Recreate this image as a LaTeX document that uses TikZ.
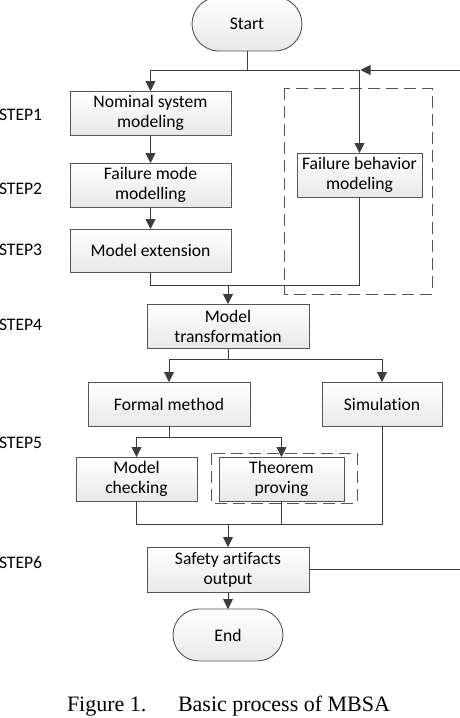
\documentclass[tikz,border=0pt]{standalone}
\usepackage{fontspec}
\newfontfamily\boxfont{Carlito}[Ligatures=NoCommon]
\newfontfamily\capfont{Liberation Serif}
\usetikzlibrary{arrows.meta}
\definecolor{ln}{RGB}{60,60,60}
\definecolor{bd}{RGB}{85,85,85}
\begin{document}
\begin{tikzpicture}[x=1pt,y=-1pt,
  every node/.style={inner sep=0pt,outer sep=0pt},
  box/.style={draw=bd,line width=0.9pt,top color=white,bottom color=gray!18,
    align=center,font=\boxfont\fontsize{17.6}{20}\selectfont,minimum height=44pt},
  term/.style={box,rounded corners=26pt,minimum width=110pt,minimum height=52pt},
  steplbl/.style={font=\boxfont\fontsize{17.6}{20}\selectfont,anchor=west},
  conn/.style={draw=ln,line width=0.9pt},
  arr/.style={conn,-{Triangle[width=10pt,length=10pt]}},
  dashbox/.style={draw=bd,line width=0.9pt,dash pattern=on 12pt off 6pt}]
\useasboundingbox (0,0) rectangle (460,718);
% nodes
\node[term,minimum height=54pt,rounded corners=27pt] (start) at (247,24) {Start};
\node[box,minimum width=161pt] (nom) at (150.5,113) {Nominal system\\modeling};
\node[box,minimum width=161pt] (fmm) at (150.5,185) {Failure mode\\modelling};
\node[box,minimum width=161pt,minimum height=43pt] (mext) at (150.5,250.5) {Model extension};
\node[box,minimum width=125pt] (fbm) at (359.5,175) {Failure behavior\\modeling};
\node[box,minimum width=162pt] (mtr) at (228,326) {Model\\transformation};
\node[box,minimum width=162pt] (fmeth) at (169,404) {Formal method};
\node[box,minimum width=120pt] (sim) at (382,404) {Simulation};
\node[box,minimum width=121pt] (mchk) at (136.5,479) {Model\\checking};
\node[box,minimum width=125pt] (thm) at (281.5,479) {Theorem\\proving};
\node[box,minimum width=162pt,minimum height=45pt] (saf) at (228,569.5) {Safety artifacts\\output};
\node[term] (end) at (228,635) {End};
% dashed groups
\draw[dashbox] (284,88) rectangle (432,294);
\draw[dashbox] (211,453) rectangle (357,503);
% step labels
\node[steplbl] (s1) at (-1,115) {STEP1};
\node[steplbl] (s2) at (-1,189) {STEP2};
\node[steplbl] (s3) at (-1,250) {STEP3};
\node[steplbl] (s4) at (-1,325) {STEP4};
\node[steplbl] (s5) at (-1,443) {STEP5};
\node[steplbl] (s6) at (-1,563) {STEP6};
% junction coordinates
\coordinate (jtop) at (0,70);
\coordinate (jm1) at (0,285);
\coordinate (js1) at (0,359);
\coordinate (js2) at (0,437);
\coordinate (jm2) at (0,524);
\coordinate (fbx) at (462,0);
% connectors
\draw[conn] (start.south) -- (start.south |- jtop);
\draw[arr] (start.south |- jtop) -| (nom.north);
\draw[arr] (start.south |- jtop) -| (fbm.north);
\draw[arr] (saf.east) -- (saf.east -| fbx) -- (fbx |- jtop) -- ([xshift=1pt]fbm.north |- jtop);
\draw[arr] (nom.south) -- (fmm.north);
\draw[arr] (fmm.south) -- (mext.north);
\draw[conn] (mext.south) |- (fbm.south |- jm1) -- (fbm.south);
\draw[arr] (mtr.north |- jm1) -- (mtr.north);
\draw[conn] (mtr.south) -- (mtr.south |- js1);
\draw[arr] (mtr.south |- js1) -| (fmeth.north);
\draw[arr] (mtr.south |- js1) -| (sim.north);
\draw[conn] (fmeth.south) -- (fmeth.south |- js2);
\draw[arr] (fmeth.south |- js2) -| (mchk.north);
\draw[arr] (fmeth.south |- js2) -| (thm.north);
\draw[conn] (mchk.south) |- (sim.south |- jm2) -- (sim.south);
\draw[conn] (thm.south) -- (thm.south |- jm2);
\draw[arr] (saf.north |- jm2) -- (saf.north);
\draw[arr] (saf.south) -- (end.north);
% caption
\node[anchor=base west,font=\capfont\fontsize{22}{26}\selectfont] (cap1) at (67,711) {Figure 1.};
\node[anchor=base west,font=\capfont\fontsize{22}{26}\selectfont] (cap2) at (178,711) {Basic process of MBSA};
\end{tikzpicture}
\end{document}
